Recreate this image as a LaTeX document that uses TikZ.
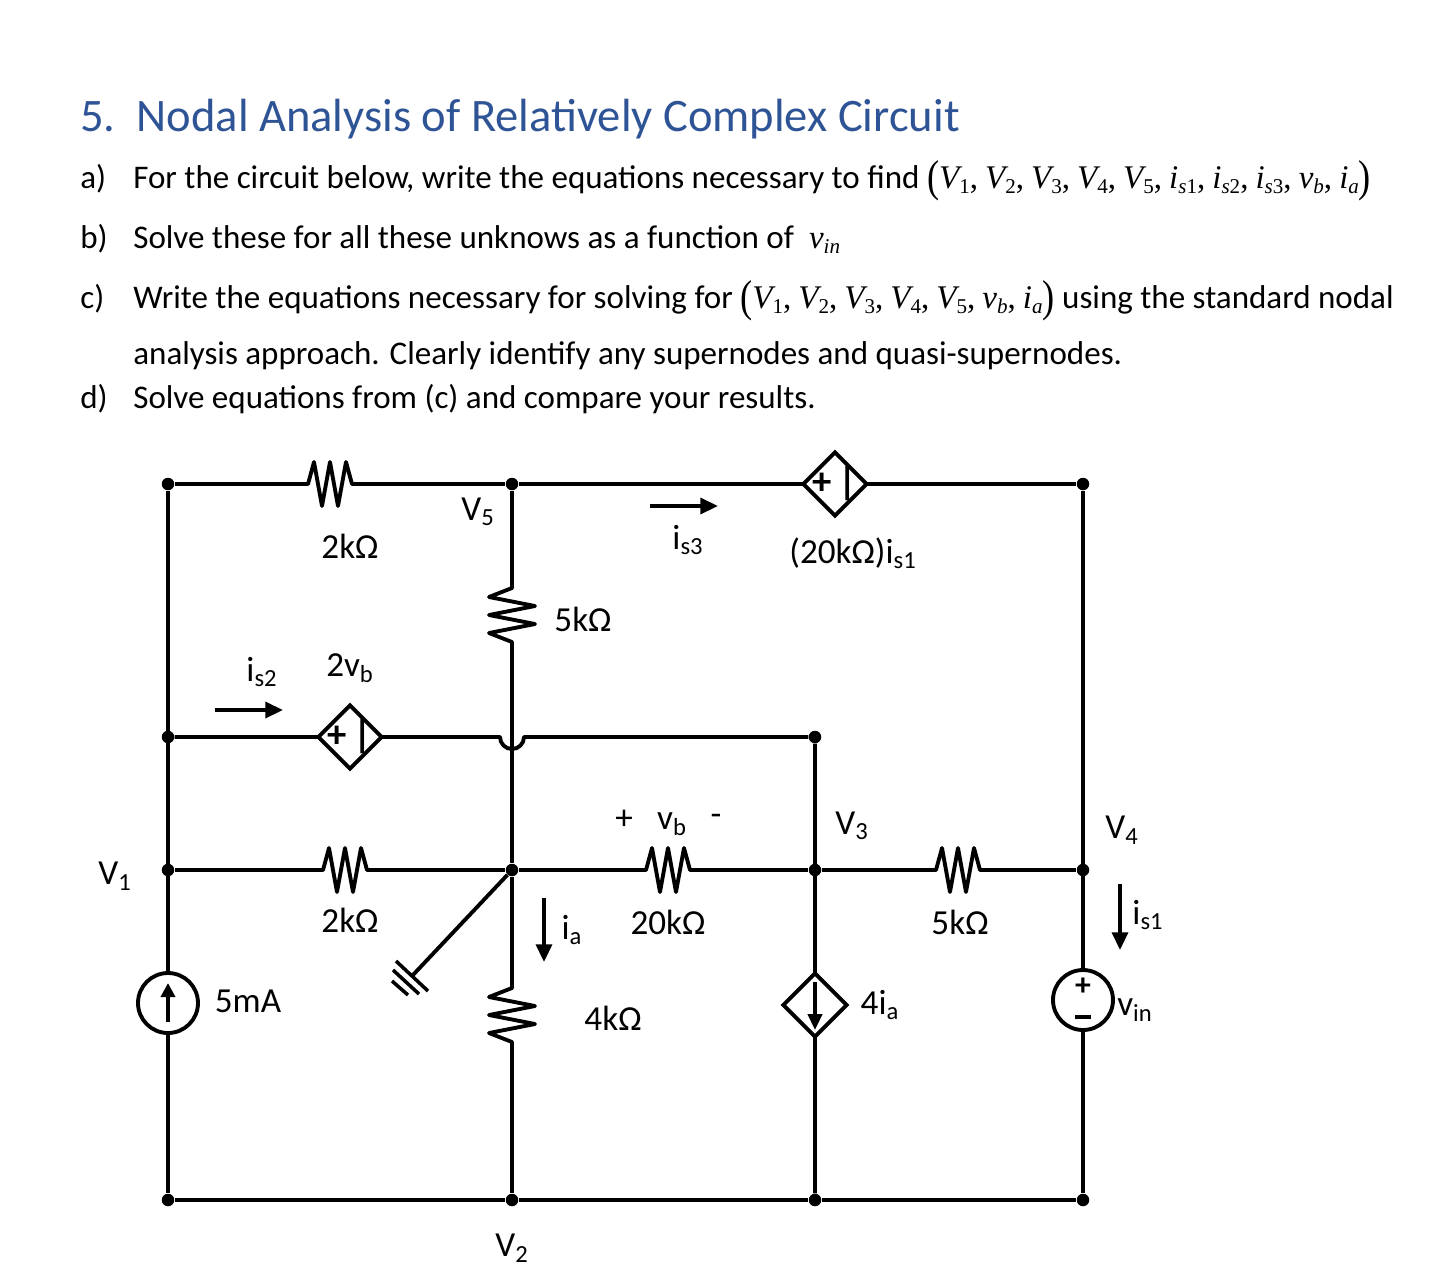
\documentclass[tikz,border=0pt]{standalone}
\usepackage{fontspec}
\setmainfont{Carlito}
\newfontfamily\tms{Liberation Serif}
\usetikzlibrary{shapes.geometric,arrows.meta,calc}
\definecolor{ttl}{RGB}{47,84,150}
\newcommand{\mv}[2]{{\tms\itshape #1\raisebox{-0.35ex}{\fontsize{12}{12}\selectfont #2}}}
\newcommand{\up}[1]{{\upshape #1}}
\newcommand{\cm}{{\tms,}\hspace{4pt}}
\newcommand{\lp}{\raisebox{-0.25ex}{\scalebox{1.1}[1.35]{\tms(}}}
\newcommand{\rp}{\raisebox{-0.25ex}{\scalebox{1.1}[1.35]{\tms)}}}
\newcommand{\hres}[2]{\draw[wire] (#1-28,#2) -- (#1-22,#2) -- (#1-16,#2-22) -- (#1-8,#2+22) -- (#1,#2-22) -- (#1+8,#2+22) -- (#1+16,#2-22) -- (#1+22,#2) -- (#1+28,#2);}
\newcommand{\vres}[2]{\draw[wire] (#1,#2-32) -- (#1,#2-27) -- (#1-23,#2-18) -- (#1+23,#2-9) -- (#1-23,#2) -- (#1+23,#2+9) -- (#1-23,#2+18) -- (#1,#2+27) -- (#1,#2+32);}
\begin{document}
\begin{tikzpicture}[x=0.02cm,y=-0.02cm,
  wire/.style={line width=2.2pt,line join=round},
  dot/.style={circle,fill,inner sep=0pt,minimum size=0.25cm},
  dia/.style={diamond,draw,line width=2.2pt,minimum size=1.3cm,inner sep=0pt,fill=white},
  src/.style={circle,draw,line width=2.2pt,minimum size=1.2cm,inner sep=0pt,fill=white},
  lbl/.style={font=\fontsize{20}{22}\selectfont,inner sep=0pt},
  txt/.style={font=\fontsize{18.8}{22}\selectfont,anchor=base west,inner sep=0pt},
  arr/.style={line width=2pt,-{Triangle[length=10pt,width=9pt]}}]
\useasboundingbox (0,0) rectangle (1448,1276);
% text
\node[anchor=base west,inner sep=0pt,text=ttl,font=\fontsize{26.5}{30}\selectfont] (title) at (80,131) {5.\ \ Nodal Analysis of Relatively Complex Circuit};
\node[txt] (la) at (80,188) {a)};
\node[txt] (ta) at (133,188) {For the circuit below, write the equations necessary to find \lp\mv{V}{\up{1}}\cm\mv{V}{\up{2}}\cm\mv{V}{\up{3}}\cm\mv{V}{\up{4}}\cm\mv{V}{\up{5}}\cm\mv{i}{s\up{1}}\cm\mv{i}{s\up{2}}\cm\mv{i}{s\up{3}}\cm\mv{v}{b}\cm\mv{i}{a}\rp};
\node[txt] (lb) at (80,248) {b)};
\node[txt] (tb) at (133,248) {Solve these for all these unknows as a function of \ \mv{v}{in}};
\node[txt] (lc) at (80,308) {c)};
\node[txt] (tc) at (133,308) {Write the equations necessary for solving for \lp\mv{V}{\up{1}}\cm\mv{V}{\up{2}}\cm\mv{V}{\up{3}}\cm\mv{V}{\up{4}}\cm\mv{V}{\up{5}}\cm\mv{v}{b}\cm\mv{i}{a}\rp\ using the standard nodal};
\node[txt] (tc2) at (133,364) {analysis approach. Clearly identify any supernodes and quasi-supernodes.};
\node[txt] (ld) at (80,408) {d)};
\node[txt] (td) at (133,408) {Solve equations from (c) and compare your results.};
% nodes
\node[dot] (a1) at (168,484) {};
\node[dot] (a2) at (512,484) {};
\node[dot] (a3) at (1083,484) {};
\node[dot] (b1) at (168,737) {};
\node[dot] (b3) at (815,737) {};
\node[dot] (c1) at (168,870) {};
\node[dot] (c2) at (512,870) {};
\node[dot] (c3) at (815,870) {};
\node[dot] (c4) at (1083,870) {};
\node[dot] (d1) at (168,1200) {};
\node[dot] (d2) at (512,1200) {};
\node[dot] (d3) at (815,1200) {};
\node[dot] (d4) at (1083,1200) {};
% wires
\draw[wire] (a1) -- (302,484); \draw[wire] (358,484) -- (a2) -- (a3);
\draw[wire] (a1) -- (d1) -- (d2) -- (d3) -- (d4) -- (a3);
\draw[wire] (a2) -- (c2) -- (d2);
\draw[wire] (b1) -- (500,737) arc[start angle=180,end angle=0,radius=12] -- (b3) -- (d3);
\draw[wire] (c1) -- (c2) -- (c3) -- (c4);
% resistors (white under)
\fill[white] (304,470) rectangle (356,498); \hres{330}{484}
\fill[white] (319,856) rectangle (371,884); \hres{345}{870}
\fill[white] (642,856) rectangle (694,884); \hres{668}{870}
\fill[white] (932,856) rectangle (984,884); \hres{958}{870}
\fill[white] (498,586) rectangle (526,644); \vres{512}{615}
\fill[white] (498,986) rectangle (526,1044); \vres{512}{1015}
% dependent sources
\node[dia] (s1) at (835,484) {};
\node[lbl,font=\bfseries\fontsize{22}{22}\selectfont] at (835,484) {+\,|};
\node[dia] (s2) at (350,737) {};
\node[lbl,font=\bfseries\fontsize{22}{22}\selectfont] at (350,737) {+\,|};
\node[dia] (s3) at (815,1005) {};
\draw[line width=2pt,-{Triangle[length=9pt,width=8pt]}] (815,982) -- (815,1030);
% independent sources
\node[src] (s4) at (168,1003) {};
\draw[line width=2pt,-{Triangle[length=8pt,width=8pt]}] (168,1022) -- (168,983);
\node[src] (s5) at (1083,1000) {};
\node[font=\bfseries\fontsize{18}{18}\selectfont,inner sep=0pt] at (1083,987) {+};
\draw[line width=2pt] (1075,1017) -- (1091,1017);
% ground
\coordinate (gE) at (412,976);
\draw[wire] (c2) -- (gE);
\draw[line width=2pt] ($(gE)+(-16,-15)$) -- ($(gE)+(16,15)$);
\draw[line width=2pt] ($(gE)+(-6-13,6-12)$) -- ($(gE)+(-6+13,6+12)$);
\draw[line width=2pt] ($(gE)+(-12-8,12-7)$) -- ($(gE)+(-12+8,12+7)$);
% current arrows
\draw[arr] (650,506) -- (718,506);
\draw[arr] (215,710) -- (283,710);
\draw[arr] (544,898) -- (544,962);
\draw[arr] (1120,884) -- (1120,950);
% labels
\node[lbl] at (350,546) {2kΩ};
\node[lbl] at (478,512) {V\textsubscript{5}};
\node[lbl] at (688,540) {i\textsubscript{s3}};
\node[lbl] at (853,553) {(20kΩ)i\textsubscript{s1}};
\node[lbl] at (583,619) {5kΩ};
\node[lbl] at (262,672) {i\textsubscript{s2}};
\node[lbl] at (350,668) {2v\textsubscript{b}};
\node[lbl] at (624,820) {+};
\node[lbl] at (672,824) {v\textsubscript{b}};
\node[lbl] at (716,820) {-};
\node[lbl] at (852,826) {V\textsubscript{3}};
\node[lbl] at (1122,830) {V\textsubscript{4}};
\node[lbl] at (115,876) {V\textsubscript{1}};
\node[lbl] at (350,920) {2kΩ};
\node[lbl] at (572,930) {i\textsubscript{a}};
\node[lbl] at (668,922) {20kΩ};
\node[lbl] at (960,922) {5kΩ};
\node[lbl] at (1148,915) {i\textsubscript{s1}};
\node[lbl] at (248,1001) {5mA};
\node[lbl] at (613,1018) {4kΩ};
\node[lbl] at (880,1005) {4i\textsubscript{a}};
\node[lbl] at (1135,1010) {v\textsubscript{in}};
\node[lbl] at (512,1248) {V\textsubscript{2}};
\end{tikzpicture}
\end{document}
